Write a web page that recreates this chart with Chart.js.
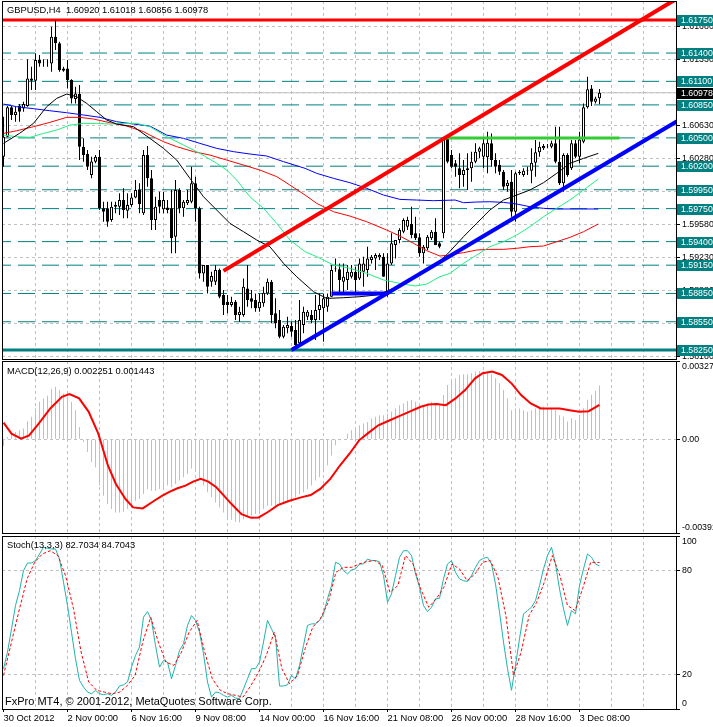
<!DOCTYPE html>
<html><head><meta charset="utf-8"><title>GBPUSD H4</title>
<script src="https://cdn.jsdelivr.net/npm/chart.js@4/dist/chart.umd.min.js"></script>
<style>
html,body{margin:0;padding:0;background:#fff;}
#wrap{position:relative;width:713px;height:727px;overflow:hidden;background:#fff;}
canvas{position:absolute;left:0;}
.t{position:absolute;font-family:"Liberation Sans",Arial,sans-serif;color:#000;white-space:pre;line-height:1;}
</style></head><body>
<div id="wrap">
<canvas id="cMain" width="713" height="380" style="top:-10px"></canvas>
<canvas id="cMacd" width="713" height="202" style="top:346px"></canvas>
<canvas id="cSto" width="713" height="207" style="top:520px"></canvas>
<div class="t" id="hMain" style="left:7px;top:6px;font-size:9.3px"></div>
<div class="t" id="hMacd" style="left:7px;top:367px;font-size:9.3px"></div>
<div class="t" id="hSto" style="left:7px;top:541px;font-size:9.3px"></div>
<div class="t" style="left:5px;top:696px;font-size:11px">FxPro MT4, © 2001-2012, MetaQuotes Software Corp.</div>
</div>
<script>
// ---------------- DATA ----------------
const symbolName = 'GBPUSD,H4';
const candleOpen = [1.60301,1.60513,1.60824,1.60743,1.60838,1.60813,1.60838,1.61131,1.61107,1.61326,
1.61301,1.61298,1.61290,1.61573,1.61503,1.61237,1.61237,1.61114,1.60912,1.60965,
1.60407,1.60329,1.60106,1.60248,1.60301,1.59753,1.59753,1.59629,1.59770,1.59770,
1.59841,1.59728,1.59788,1.59869,1.59954,1.59700,1.60318,1.60071,1.59629,1.59841,
1.59742,1.59763,1.59753,1.59452,1.59947,1.59753,1.59806,1.59823,1.60018,1.59753,
1.59063,1.59152,1.58975,1.58975,1.59099,1.58834,1.58763,1.58728,1.58763,1.58622,
1.58622,1.58904,1.58798,1.58781,1.58692,1.58745,1.58851,1.58975,1.58639,1.58569,
1.58392,1.58480,1.58505,1.58462,1.58321,1.58516,1.58604,1.58622,1.58569,1.58675,
1.58692,1.58710,1.58816,1.59106,1.59106,1.58975,1.58993,1.59028,1.59081,1.59010,
1.59081,1.59099,1.59205,1.59222,1.59233,1.59240,1.58834,1.59169,1.59364,1.59417,
1.59505,1.59558,1.59587,1.59488,1.59445,1.59276,1.59329,1.59435,1.59505,1.59382,
1.59488,1.60495,1.60318,1.60230,1.60177,1.60106,1.60177,1.60177,1.60248,1.60354,
1.60301,1.60294,1.60442,1.60265,1.60212,1.60142,1.59990,1.60036,1.59717,1.60124,
1.60106,1.60152,1.60152,1.60237,1.60347,1.60389,1.60407,1.60407,1.60442,1.60248,
1.60018,1.60318,1.60177,1.60442,1.60301,1.60460,1.60824,1.61025,1.60884,1.60920];
const candleHigh = [1.60725,1.60838,1.60838,1.60831,1.60859,1.60884,1.61333,1.61255,1.61397,1.61379,
1.61333,1.61333,1.61679,1.61750,1.61520,1.61255,1.61326,1.61121,1.61043,1.61061,
1.60495,1.60371,1.60301,1.60318,1.60371,1.59823,1.59823,1.59823,1.59823,1.59912,
1.59965,1.59912,1.59912,1.60053,1.60018,1.60371,1.60414,1.60159,1.59876,1.59929,
1.59929,1.59841,1.59947,1.60053,1.59965,1.59841,1.59947,1.60195,1.60089,1.59770,
1.59152,1.59152,1.59081,1.59152,1.59116,1.58887,1.58834,1.58816,1.58781,1.58710,
1.59010,1.59152,1.58887,1.58851,1.58851,1.58922,1.59010,1.58993,1.58798,1.58675,
1.58516,1.58604,1.58551,1.58569,1.58781,1.58710,1.58675,1.58675,1.58834,1.58851,
1.58851,1.58851,1.59152,1.59222,1.59169,1.59169,1.59152,1.59152,1.59134,1.59222,
1.59240,1.59346,1.59258,1.59276,1.59276,1.59276,1.59276,1.59488,1.59417,1.59541,
1.59647,1.59664,1.59770,1.59664,1.59488,1.59364,1.59470,1.59523,1.59647,1.59399,
1.60506,1.60506,1.60371,1.60265,1.60336,1.60265,1.60336,1.60354,1.60442,1.60407,
1.60513,1.60566,1.60548,1.60336,1.60265,1.60159,1.60053,1.60159,1.60142,1.60159,
1.60177,1.60195,1.60389,1.60477,1.60460,1.60435,1.60435,1.60470,1.60619,1.60619,
1.60336,1.60336,1.60477,1.60477,1.60566,1.60866,1.61149,1.61061,1.60937,1.61018];
const candleLow = [1.60195,1.60506,1.60690,1.60672,1.60672,1.60778,1.60831,1.61008,1.61008,1.61255,
1.61255,1.61255,1.61202,1.61432,1.61202,1.61202,1.61025,1.60866,1.60866,1.60265,
1.60248,1.60159,1.60071,1.60230,1.59735,1.59611,1.59558,1.59611,1.59700,1.59682,
1.59647,1.59647,1.59770,1.59859,1.59700,1.59682,1.59983,1.59523,1.59523,1.59700,
1.59700,1.59700,1.59276,1.59276,1.59700,1.59664,1.59788,1.59806,1.59611,1.59010,
1.58975,1.58851,1.58922,1.58940,1.58798,1.58622,1.58639,1.58710,1.58569,1.58551,
1.58604,1.58710,1.58692,1.58657,1.58657,1.58710,1.58834,1.58533,1.58480,1.58374,
1.58374,1.58427,1.58392,1.58268,1.58286,1.58427,1.58569,1.58533,1.58356,1.58569,
1.58339,1.58657,1.58816,1.59081,1.58851,1.58851,1.58887,1.59010,1.58851,1.58993,
1.58922,1.59028,1.59169,1.59099,1.59205,1.59028,1.58816,1.59152,1.59222,1.59382,
1.59488,1.59523,1.59435,1.59417,1.59240,1.59169,1.59311,1.59417,1.59364,1.59329,
1.59435,1.60230,1.60177,1.60089,1.59965,1.59983,1.59947,1.60035,1.60230,1.60283,
1.60177,1.60124,1.60195,1.60124,1.60106,1.59947,1.59929,1.59664,1.59611,1.60106,
1.60089,1.60106,1.60018,1.60089,1.60301,1.60371,1.60389,1.60389,1.60230,1.60000,
1.59929,1.60089,1.60159,1.60283,1.60230,1.60442,1.60813,1.60838,1.60866,1.60856];
const candleClose = [1.60513,1.60824,1.60743,1.60778,1.60778,1.60859,1.61131,1.61107,1.61326,1.61290,
1.61298,1.61301,1.61573,1.61503,1.61220,1.61213,1.61114,1.60919,1.60972,1.60407,
1.60318,1.60195,1.60251,1.60301,1.59753,1.59717,1.59611,1.59770,1.59788,1.59841,
1.59735,1.59788,1.59869,1.59947,1.59799,1.60318,1.60071,1.59629,1.59770,1.59770,
1.59841,1.59735,1.59435,1.59947,1.59753,1.59823,1.59841,1.60018,1.59753,1.59063,
1.59152,1.58922,1.59035,1.59099,1.58816,1.58728,1.58728,1.58763,1.58622,1.58657,
1.58922,1.58781,1.58763,1.58692,1.58763,1.58858,1.58975,1.58622,1.58533,1.58392,
1.58498,1.58516,1.58445,1.58303,1.58569,1.58657,1.58657,1.58569,1.58675,1.58728,
1.58798,1.58816,1.59099,1.59116,1.58993,1.59028,1.59081,1.59081,1.58993,1.59169,
1.59169,1.59222,1.59240,1.59258,1.59258,1.59028,1.59169,1.59382,1.59417,1.59523,
1.59629,1.59629,1.59470,1.59435,1.59276,1.59346,1.59452,1.59505,1.59364,1.59346,
1.60495,1.60248,1.60195,1.60195,1.60106,1.60159,1.60159,1.60248,1.60354,1.60389,
1.60442,1.60449,1.60265,1.60195,1.60142,1.59983,1.60025,1.59717,1.60124,1.60142,
1.60152,1.60156,1.60237,1.60347,1.60407,1.60414,1.60410,1.60442,1.60248,1.60018,
1.60318,1.60106,1.60442,1.60301,1.60484,1.60824,1.61015,1.60884,1.60919,1.60978];

// moving averages (bar position, price)
const maBlackBars = [0,4,7.5,10.8,13.3,15.8,18.3,20.8,23.3,25.8,28.3,32.5,36.6,40,43.3,46.6,50,53.3,56.6,60,63.3,66.6,70,73.3,77.5,80.8,85,89.1,93.3,96.6,100,104,108,111,115,118.3,121.6,125,128.3,131.6,135,138.3,141.6,145,148.7];
const maBlackVals = [1.60442,1.60548,1.60654,1.60831,1.60919,1.60965,1.60937,1.60866,1.60778,1.60690,1.60647,1.60619,1.60495,1.60389,1.60265,1.60071,1.59876,1.59735,1.59594,1.59505,1.59417,1.59346,1.59170,1.59028,1.58869,1.58798,1.58805,1.58816,1.58834,1.58887,1.58957,1.59056,1.59152,1.59269,1.59452,1.59594,1.59735,1.59841,1.59894,1.59947,1.60025,1.60124,1.60230,1.60283,1.60336];
const maGreenBars = [0,3.3,6.6,10,13.3,16.6,20,23.3,26.6,30,33.3,36.6,40.8,45,49.1,53.3,55.8,58.3,61.6,65,68.3,71.6,75.4,78.3,82.5,86.6,90.8,95,99.1,102.9,105.8,109.1,111.6,115,118.3,121.6,125,128.3,131.6,135,138.3,141.6,145,148.7];
const maGreenVals = [1.60530,1.60513,1.60506,1.60548,1.60583,1.60636,1.60654,1.60654,1.60647,1.60654,1.60654,1.60619,1.60513,1.60424,1.60336,1.60230,1.60159,1.60053,1.59876,1.59753,1.59594,1.59417,1.59293,1.59240,1.59152,1.59117,1.59063,1.58993,1.58957,1.58929,1.58950,1.59028,1.59063,1.59170,1.59258,1.59346,1.59399,1.59470,1.59558,1.59664,1.59753,1.59841,1.59947,1.60064];
const maRedBars = [0,3.3,7.5,11.6,15.8,19.1,22.5,26.6,30.8,35,36.6,40,43.3,47.5,51.6,55.8,60,64.1,68.3,71.6,75.4,78.3,82.5,86.6,90.8,95.8,99.1,102.5,105.8,109.1,111.6,115,118.3,121.6,125,128.3,131.6,135,138.3,141.6,145,148.7];
const maRedVals = [1.60548,1.60576,1.60619,1.60665,1.60718,1.60718,1.60700,1.60661,1.60626,1.60566,1.60530,1.60460,1.60407,1.60354,1.60318,1.60265,1.60212,1.60159,1.60089,1.60000,1.59894,1.59806,1.59717,1.59671,1.59611,1.59523,1.59459,1.59382,1.59304,1.59247,1.59258,1.59283,1.59311,1.59318,1.59318,1.59329,1.59346,1.59353,1.59399,1.59445,1.59505,1.59587];
const maBlueBars = [0,3.3,7.5,11.6,15.8,20,24.1,28.3,32.5,36.6,40.8,45,49.1,53.3,57.5,61.6,65.8,70,75.4,78.3,82.5,86.6,90.8,95,99.1,103.3,107.5,112.9,115,118.3,121.6,125,128.3,131.6,135,138.3,141.6,145,148.7];
const maBlueVals = [1.60859,1.60831,1.60810,1.60788,1.60767,1.60743,1.60718,1.60672,1.60647,1.60625,1.60530,1.60495,1.60442,1.60389,1.60354,1.60329,1.60308,1.60248,1.60177,1.60124,1.60071,1.60025,1.59965,1.59894,1.59848,1.59841,1.59834,1.59841,1.59813,1.59820,1.59823,1.59816,1.59799,1.59770,1.59753,1.59746,1.59746,1.59746,1.59746];

// drawn objects
const trendRedBars = [55,170], trendRedVals = [1.5909,1.6202];
const trendBlueBars = [72,170], trendBlueVals = [1.5825,1.60717];
const greenLineBars = [110,154], greenLineVal = 1.6050;
const blueLineBars = [82,96], blueLineVal = 1.5885;
const levelDashed = [1.6140,1.6110,1.6085,1.6050,1.6020,1.5995,1.5975,1.5940,1.5915,1.5885,1.5855];
const levelRed = 1.6175;
const levelBottom = 1.5825;
const lastPrice = 1.60978;

// axes
const priceTicks = [1.5818,1.5853,1.5888,1.5923,1.5958,1.5993,1.6028,1.6063,1.6098,1.6133,1.6168];
const macdTicks = [-0.00391,0,0.00327];
const stoTicks = [0,20,80,100];
const xLabelBars = [0,16,32,48,64,80,96,112,128,144];
const xLabels = ['30 Oct 2012','2 Nov 00:00','6 Nov 16:00','9 Nov 08:00','14 Nov 00:00','16 Nov 16:00','21 Nov 08:00','26 Nov 00:00','28 Nov 16:00','3 Dec 08:00'];

// MACD
const macdHist = [-0.000280,0.000098,0.000238,0.000308,0.000378,0.000448,0.000756,0.000938,0.001288,0.001568,
0.001708,0.001820,0.002100,0.002198,0.002058,0.001918,0.001778,0.001568,0.001218,0.000518,
-0.000112,-0.000532,-0.000952,-0.001162,-0.001932,-0.002352,-0.002702,-0.002912,-0.003052,-0.003052,
-0.003024,-0.002912,-0.002772,-0.002562,-0.002492,-0.002282,-0.002072,-0.002142,-0.002142,-0.002072,
-0.002002,-0.001932,-0.002002,-0.001862,-0.001722,-0.001582,-0.001442,-0.001232,-0.001302,-0.001652,
-0.001932,-0.002212,-0.002422,-0.002632,-0.002842,-0.003052,-0.003262,-0.003360,-0.003444,-0.003472,
-0.003332,-0.003262,-0.003192,-0.003122,-0.002982,-0.002912,-0.002772,-0.002772,-0.002772,-0.002702,
-0.002632,-0.002562,-0.002492,-0.002422,-0.002282,-0.002212,-0.002072,-0.001932,-0.001722,-0.001582,
-0.001372,-0.001092,-0.000672,-0.000252,-0.000042,0.000028,0.000238,0.000378,0.000518,0.000588,
0.000658,0.000728,0.000868,0.000938,0.001008,0.001008,0.001078,0.001148,0.001288,0.001428,
0.001498,0.001596,0.001638,0.001568,0.001428,0.001428,0.001498,0.001568,0.001498,0.001428,
0.001848,0.002268,0.002408,0.002548,0.002688,0.002716,0.002716,0.002758,0.002828,0.002856,
0.002856,0.002828,0.002716,0.002548,0.002338,0.002058,0.001708,0.001218,0.001288,0.001288,
0.001218,0.001148,0.001218,0.001288,0.001358,0.001358,0.001288,0.001288,0.001218,0.001008,
0.000950,0.000740,0.000880,0.000810,0.001000,0.001300,0.001650,0.001860,0.002030,0.002251];
const macdSigBars = [0,2,4.4,6.4,8.8,11.7,14.6,16.5,18.9,21.3,23.7,26.1,28.1,30.5,32.4,34.8,37.3,39.7,41.6,43.5,45.5,47.4,49.3,51.2,53.2,55.1,57,59.5,61.9,63.8,66.2,68.6,71.5,74.4,76.8,79.2,81.7,84.1,86.5,88.9,91.3,93.7,96.6,98.5,101.4,104.3,106.3,108.2,110.6,113,115.4,117.9,119.8,122.2,124.6,127,129.4,131.8,134.3,137.2,139.1,141.5,143.9,146.3,149];
const macdSigVals = [0.000700,0.000238,0.000028,0.000168,0.000658,0.001288,0.001778,0.001890,0.001708,0.001148,0.000238,-0.001092,-0.001862,-0.002492,-0.002842,-0.002884,-0.002604,-0.002352,-0.002184,-0.002044,-0.001932,-0.001764,-0.001652,-0.001764,-0.002002,-0.002352,-0.002702,-0.003122,-0.003276,-0.003262,-0.003024,-0.002744,-0.002562,-0.002422,-0.002324,-0.002072,-0.001652,-0.001092,-0.000602,-0.000042,0.000280,0.000588,0.000798,0.000938,0.001148,0.001358,0.001456,0.001470,0.001428,0.001708,0.002058,0.002548,0.002758,0.002828,0.002688,0.002338,0.001848,0.001498,0.001288,0.001288,0.001288,0.001218,0.001148,0.001176,0.001443];

// Stochastic
const stoMain = [23.3,32.9,46.3,59.8,68.5,80.0,84.4,84.4,85.8,89.6,
93.5,92.9,92.5,92.5,86.7,73.3,59.8,44.4,29.0,16.5,
12.7,9.8,8.8,10.8,8.8,8.3,8.8,7.9,9.8,13.3,
14.0,15.6,24.2,31.0,35.8,53.1,56.3,51.2,36.7,24.2,
28.1,27.1,17.5,25.2,33.8,37.7,48.3,54.0,51.2,44.4,
31.9,15.6,6.9,9.8,9.4,7.9,6.9,7.9,6.3,6.0,
11.7,17.5,23.3,23.3,27.1,38.7,51.2,46.3,41.5,13.3,
13.3,14.0,19.4,17.5,25.2,36.7,48.3,49.2,49.2,51.2,
55.0,63.7,71.3,84.8,83.8,80.0,78.1,80.4,81.0,83.8,
83.8,86.7,85.8,85.8,85.2,77.1,61.7,66.5,77.1,87.7,
91.5,91.5,88.7,78.1,70.4,59.8,56.3,58.8,63.7,64.0,
75.2,83.8,85.8,79.0,75.2,74.2,73.7,77.1,81.9,85.8,
87.1,87.7,83.8,72.3,56.0,38.7,23.3,10.8,25.2,40.6,
55.0,56.9,58.8,62.7,71.3,81.0,88.7,93.5,83.8,69.4,
57.9,48.3,56.9,55.0,71.3,81.0,89.6,87.7,83.8,82.7034];
const stoSigBars = [0,2,4,5.9,7.8,9.7,11.7,13.6,15.5,17.5,19.4,21.3,23.3,25.2,27.1,29.1,31,32.9,34.8,36.8,38.7,40.6,42.6,44.5,46.4,48.4,50.3,52.2,54.2,56.1,58,59.9,61.9,63.8,65.7,67.7,69.6,71.5,73.5,75.4,77.3,79.2,81.2,83.1,85,87,88.9,90.8,92.8,94.7,96.6,98.6,100.5,102.4,104.3,106.3,108.2,110.1,112.1,114,115.9,117.9,119.8,121.7,123.6,125.6,127.5,129.4,131.4,133.3,135.2,137.2,139.1,141,142.9,144.9,146.8,149];
const stoSigVals = [19.4,38.7,57.9,75.2,84.8,89.6,91.5,88.7,77.1,57.9,32.9,15.6,10.8,9.8,8.8,9.8,13.7,19.4,38.7,53.1,38.7,27.1,25.2,32.9,44.4,51.2,32.9,17.5,10.8,8.8,7.9,6.9,13.7,21.3,31.0,44.4,23.3,14.6,19.4,34.8,47.3,52.1,61.7,79.0,81.9,81.9,83.8,85.2,85.8,82.9,67.5,71.3,88.7,83.8,69.4,58.8,63.7,70.4,83.8,81.0,74.2,78.1,84.8,85.8,76.2,54.0,19.4,32.9,54.0,61.7,73.3,88.7,77.1,59.8,56.9,70.4,84.8,84.7043];

// ---------------- CHARTS ----------------
const FONT = '"Liberation Sans", Arial, sans-serif';
const N = candleOpen.length;
const last = N - 1;
document.getElementById('hMain').textContent = symbolName + '  ' + [candleOpen[last],candleHigh[last],candleLow[last],candleClose[last]].map(v=>v.toFixed(5)).join(' ');
document.getElementById('hMacd').textContent = 'MACD(12,26,9) ' + macdHist[last].toFixed(6) + ' ' + macdSigVals[macdSigVals.length-1].toFixed(6);
document.getElementById('hSto').textContent = 'Stoch(13,3,3) ' + stoMain[last].toFixed(4) + ' ' + stoSigVals[stoSigVals.length-1].toFixed(4);

const xMin = -0.375, xMax = 168.125;
const idx = candleOpen.map((_, i) => i);
const pts = (xs, ys) => xs.map((x, i) => ({x, y: ys[i]}));
const hline = v => [{x: xMin - 2, y: v}, {x: xMax + 2, y: v}];
const TRANSP = 'rgba(0,0,0,0)';

function lineDs(data, color, width, order, dash) {
  return {type: 'line', data, borderColor: color, backgroundColor: color, borderWidth: width,
    borderDash: dash || [], pointRadius: 0, pointHoverRadius: 0, tension: 0, fill: false,
    order, borderCapStyle: 'butt'};
}

function xAxis(withLabels) {
  return {
    type: 'linear', min: xMin, max: xMax, offset: false, bounds: 'data',
    afterBuildTicks: s => { const t = []; for (let v = 0; v <= 168; v += 8) t.push({value: v}); s.ticks = t; },
    afterFit: s => { s.height = withLabels ? 18 : 0; },
    grid: {
      color: c => (c.tick && (c.tick.value === 0 || c.tick.value === 168)) ? TRANSP : '#C0C0C0',
      lineWidth: 1, drawTicks: withLabels, tickLength: 3, offset: false,
      tickColor: c => (c.tick && xLabelBars.includes(c.tick.value)) ? '#000' : TRANSP
    },
    border: {display: false, dash: [3, 3]},
    ticks: {
      display: withLabels, autoSkip: false, maxRotation: 0, minRotation: 0, align: 'start', padding: 1,
      color: '#000', font: {family: FONT, size: 9.4},
      callback: v => { const k = xLabelBars.indexOf(v); return k >= 0 ? xLabels[k] : ''; }
    }
  };
}

function yAxis(min, max, ticks, labelFn, gridFn) {
  return {
    type: 'linear', position: 'right', min, max, bounds: 'data',
    afterBuildTicks: s => { s.ticks = ticks.map(v => ({value: v})); },
    afterFit: s => { s.width = 37; },
    grid: {color: gridFn, lineWidth: 1, drawTicks: true, tickLength: 4, tickColor: '#000'},
    border: {display: false, dash: [3, 3]},
    ticks: {padding: 2, color: '#000', autoSkip: false, font: {family: FONT, size: 8.8}, callback: labelFn}
  };
}

const framePlugin = {
  id: 'frame',
  afterDraw(chart) {
    const a = chart.chartArea, c = chart.ctx;
    c.save(); c.strokeStyle = '#000'; c.lineWidth = 1;
    c.strokeRect(a.left + 0.5, a.top + 0.5, a.right - a.left, a.bottom - a.top);
    c.restore();
  }
};

const levelPlugin = {
  id: 'levelLabels',
  afterDraw(chart) {
    const y = chart.scales.y, a = chart.chartArea, c = chart.ctx;
    c.save();
    c.font = '8.8px ' + FONT; c.textBaseline = 'middle'; c.textAlign = 'left';
    const box = (v, bg) => {
      const py = Math.round(y.getPixelForValue(v));
      c.fillStyle = bg; c.fillRect(a.right + 1, py - 5, 36, 11);
      c.fillStyle = '#FFFFFF'; c.fillText(v.toFixed(5), a.right + 5, py + 0.5);
    };
    [levelRed, ...levelDashed, levelBottom].forEach(v => box(v, '#008080'));
    box(lastPrice, '#000000');
    c.restore();
  }
};

const common = {
  responsive: false, animation: false, devicePixelRatio: 1, events: [],
  plugins: {legend: {display: false}, tooltip: {enabled: false}, title: {display: false}}
};

// Main price chart
new Chart(document.getElementById('cMain'), {
  type: 'line',
  data: {datasets: [
    ...levelDashed.map(v => lineDs(hline(v), '#008080', 1, 30, [17, 7])),
    lineDs(hline(levelRed), '#FF0000', 3, 29),
    lineDs(hline(levelBottom), '#008080', 3, 29),
    lineDs(hline(lastPrice), '#C0C0C0', 1, 28),
    {type: 'bar', data: idx.map(i => ({x: i, y: [candleLow[i], candleHigh[i]]})),
      backgroundColor: '#000', borderWidth: 0, barThickness: 1, grouped: false, inflateAmount: 0, order: 21},
    {type: 'bar', data: idx.map(i => ({x: i, y: [candleOpen[i], candleClose[i]]})),
      backgroundColor: idx.map(i => candleClose[i] >= candleOpen[i] ? '#FFFFFF' : '#000000'),
      borderColor: '#000', borderWidth: 1, borderSkipped: false, barThickness: 3, grouped: false, inflateAmount: 0, order: 20},
    lineDs(pts(maBlueBars, maBlueVals), '#0000FF', 1, 13),
    lineDs(pts(maRedBars, maRedVals), '#FF0000', 1, 12),
    lineDs(pts(maGreenBars, maGreenVals), '#1EF080', 1, 11),
    lineDs(pts(maBlackBars, maBlackVals), '#000000', 1, 10),
    lineDs(pts(greenLineBars, [greenLineVal, greenLineVal]), '#32CD32', 3, 4),
    lineDs(pts(blueLineBars, [blueLineVal, blueLineVal]), '#0000FF', 4, 3),
    lineDs(pts(trendBlueBars, trendBlueVals), '#0000FF', 4, 2),
    lineDs(pts(trendRedBars, trendRedVals), '#FF0000', 4, 1)
  ]},
  options: Object.assign({}, common, {
    layout: {padding: {left: 2, right: 0, top: 11, bottom: 11}},
    scales: {
      x: xAxis(false),
      y: yAxis(1.58155, 1.61952, priceTicks, v => v.toFixed(5), () => '#C0C0C0')
    }
  }),
  plugins: [framePlugin, levelPlugin]
});

// MACD
const macdMin = macdTicks[0], macdMax = macdTicks[macdTicks.length - 1];
new Chart(document.getElementById('cMacd'), {
  type: 'line',
  data: {datasets: [
    {type: 'bar', data: idx.map(i => ({x: i, y: macdHist[i]})), backgroundColor: '#C0C0C0',
      borderWidth: 0, barThickness: 1, grouped: false, inflateAmount: 0, order: 5},
    lineDs(pts(macdSigBars, macdSigVals), '#FF0000', 2, 1)
  ]},
  options: Object.assign({}, common, {
    layout: {padding: {left: 2, right: 0, top: 15, bottom: 15}},
    scales: {
      x: xAxis(false),
      y: yAxis(macdMin, macdMax, macdTicks,
        v => v === macdMax ? ['', v.toFixed(5)] : (v === macdMin ? [v.toFixed(5), ''] : v.toFixed(2)),
        c => (c.tick && c.tick.value === 0) ? '#C0C0C0' : TRANSP)
    }
  }),
  plugins: [framePlugin]
});

// Stochastic
new Chart(document.getElementById('cSto'), {
  type: 'line',
  data: {datasets: [
    lineDs(idx.map(i => ({x: i, y: stoMain[i]})), '#20B2AA', 1, 2),
    lineDs(pts(stoSigBars, stoSigVals), '#FF0000', 1, 1, [3, 2])
  ]},
  options: Object.assign({}, common, {
    layout: {padding: {left: 2, right: 0, top: 16, bottom: 0}},
    scales: {
      x: xAxis(true),
      y: yAxis(0, 100, stoTicks,
        v => v === 100 ? ['', '100'] : (v === 0 ? ['0', ''] : String(v)),
        c => (c.tick && (c.tick.value === 20 || c.tick.value === 80)) ? '#C0C0C0' : TRANSP)
    }
  }),
  plugins: [framePlugin]
});
</script>
</body></html>
